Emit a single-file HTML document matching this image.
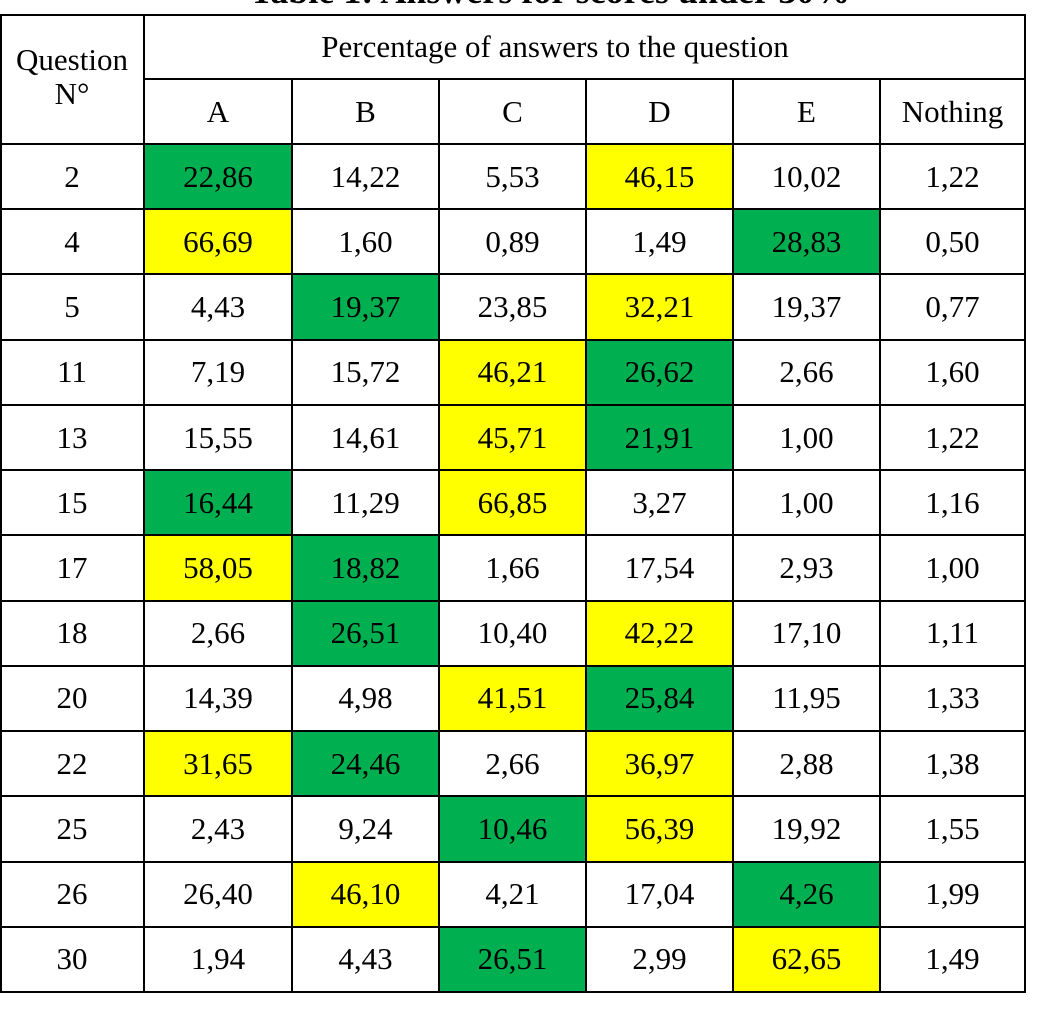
<!DOCTYPE html>
<html><head><meta charset="utf-8"><style>
body{margin:0;width:1054px;height:1013px;background:#fff;overflow:hidden;position:relative;font-family:"Liberation Serif",serif;color:#000}
.t{position:absolute;left:0;top:-28px;width:1100px;text-align:center;font-weight:bold;font-size:36px;line-height:38px}
.c{position:absolute;display:flex;align-items:center;justify-content:center;font-size:31px;box-sizing:border-box}
.h{position:absolute;background:#000}
.g{background:#00B050}.y{background:#FFFF00}
</style></head><body>
<div class="t">Table 1: Answers for scores under 30%</div>
<div id="tb"></div>
<script>
var X=[0,144,292,439,586,733,880,1025];
var tb=document.getElementById('tb'),h='';
function cell(x1,y1,x2,y2,txt,cls){h+='<div class="c '+(cls||'')+'" style="left:'+x1+'px;top:'+y1+'px;width:'+(x2-x1)+'px;height:'+(y2-y1)+'px">'+txt+'</div>';}
cell(0,15,144,144,'<div style="text-align:center;line-height:34px;margin-top:-6px">Question<br>N°</div>');
cell(144,15,966,79,'Percentage of answers to the question');
var hd=['A','B','C','D','E','Nothing'];
for(var i=0;i<6;i++)cell(X[i+1],79,X[i+2],144,hd[i]);
var rows=[
['2','g22,86','14,22','5,53','y46,15','10,02','1,22'],
['4','y66,69','1,60','0,89','1,49','g28,83','0,50'],
['5','4,43','g19,37','23,85','y32,21','19,37','0,77'],
['11','7,19','15,72','y46,21','g26,62','2,66','1,60'],
['13','15,55','14,61','y45,71','g21,91','1,00','1,22'],
['15','g16,44','11,29','y66,85','3,27','1,00','1,16'],
['17','y58,05','g18,82','1,66','17,54','2,93','1,00'],
['18','2,66','g26,51','10,40','y42,22','17,10','1,11'],
['20','14,39','4,98','y41,51','g25,84','11,95','1,33'],
['22','y31,65','g24,46','2,66','y36,97','2,88','1,38'],
['25','2,43','9,24','g10,46','y56,39','19,92','1,55'],
['26','26,40','y46,10','4,21','17,04','g4,26','1,99'],
['30','1,94','4,43','g26,51','2,99','y62,65','1,49']];
var RH=(992-144)/13;
for(var r=0;r<13;r++){var y1=144+r*RH,y2=y1+RH;
for(var c=0;c<7;c++){var v=rows[r][c],cl='';if(v[0]=='g'||v[0]=='y'){cl=v[0];v=v.slice(1);}cell(X[c],y1,X[c+1],y2,v,cl);}}
function hl(x1,x2,y){h+='<div class="h" style="left:'+x1+'px;top:'+(y-1)+'px;width:'+(x2-x1+1)+'px;height:2px"></div>';}
function vl(x,y1,y2){h+='<div class="h" style="left:'+(x-1)+'px;top:'+y1+'px;width:2px;height:'+(y2-y1+1)+'px"></div>';}
hl(0,1025,15);hl(144,1025,79);
for(var r=0;r<=13;r++)hl(0,1025,144+r*RH);
vl(1,15,992);vl(144,15,992);vl(1025,15,992);
for(var i=2;i<7;i++)vl(X[i],79,992);
tb.innerHTML=h;
</script>
</body></html>
